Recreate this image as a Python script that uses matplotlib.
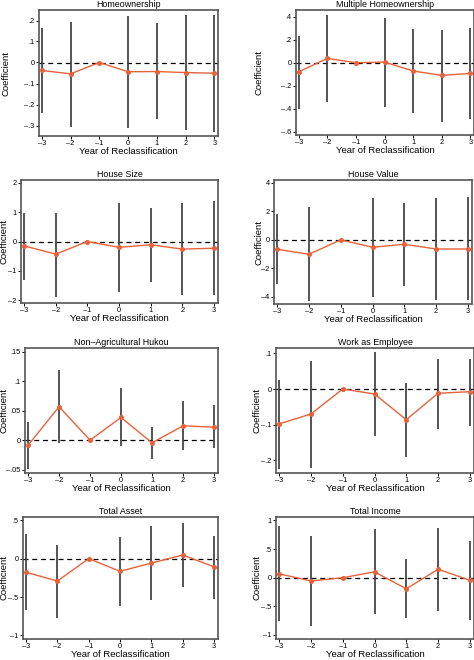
import numpy as np
import matplotlib
matplotlib.use("Agg")
import matplotlib.pyplot as plt
from matplotlib.ticker import FuncFormatter

plt.rcParams['font.family'] = ['Liberation Sans', 'DejaVu Sans']

years = [-3, -2, -1, 0, 1, 2, 3]

titles = ["Homeownership", "Multiple Homeownership", "House Size", "House Value",
          "Non\u2013Agricultural Hukou", "Work as Employee", "Total Asset", "Total Income"]

# point estimates (year -1 is the reference year)
coef_home = [-0.038, -0.054, 0, -0.044, -0.043, -0.048, -0.051]
coef_multi = [-0.078, 0.038, 0, 0.006, -0.072, -0.110, -0.093]
coef_size = [-0.15, -0.43, 0, -0.20, -0.11, -0.26, -0.23]
coef_value = [-0.66, -1.01, 0, -0.52, -0.31, -0.64, -0.64]
coef_hukou = [-0.0085, 0.0566, 0, 0.0385, -0.0045, 0.0243, 0.0221]
coef_emp = [-0.098, -0.070, 0, -0.014, -0.086, -0.012, -0.0075]
coef_asset = [-0.178, -0.292, 0, -0.165, -0.059, 0.047, -0.106]
coef_income = [0.068, -0.057, 0, 0.102, -0.193, 0.148, -0.045]

# confidence intervals (upper, lower); None for reference year
hi_home = [0.163, 0.195, None, 0.222, 0.187, 0.227, 0.227]
lo_home = [-0.241, -0.305, None, -0.31, -0.27, -0.32, -0.329]
hi_multi = [0.235, 0.414, None, 0.394, 0.29, 0.284, 0.299]
lo_multi = [-0.403, -0.339, None, -0.388, -0.44, -0.513, -0.493]
hi_size = [0.97, 0.97, None, 1.31, 1.14, 1.31, 1.39]
lo_size = [-1.31, -1.88, None, -1.73, -1.39, -1.84, -1.84]
hi_value = [1.81, 2.28, None, 2.94, 2.59, 2.94, 3.01]
lo_value = [-3.13, -4.30, None, -4.00, -3.22, -4.24, -4.24]
hi_hukou = [0.031, 0.119, None, 0.089, 0.0226, 0.066, 0.0595]
lo_hukou = [-0.048, -0.0045, None, -0.010, -0.031, -0.016, -0.014]
hi_emp = [0.026, 0.078, None, 0.104, 0.017, 0.085, 0.085]
lo_emp = [-0.224, -0.221, None, -0.133, -0.191, -0.112, -0.103]
hi_asset = [0.318, 0.182, None, 0.288, 0.428, 0.470, 0.301]
lo_asset = [-0.665, -0.771, None, -0.614, -0.538, -0.369, -0.521]
hi_income = [0.903, 0.722, None, 0.852, 0.324, 0.864, 0.648]
lo_income = [-0.756, -0.841, None, -0.642, -0.705, -0.574, -0.739]

coefs = [coef_home, coef_multi, coef_size, coef_value, coef_hukou, coef_emp, coef_asset, coef_income]
his = [hi_home, hi_multi, hi_size, hi_value, hi_hukou, hi_emp, hi_asset, hi_income]
los = [lo_home, lo_multi, lo_size, lo_value, lo_hukou, lo_emp, lo_asset, lo_income]

yticks = [np.arange(-0.3, 0.21, 0.1), np.arange(-0.6, 0.41, 0.2), np.arange(-2, 2.1, 1),
          np.arange(-4, 4.1, 2), np.arange(-0.05, 0.151, 0.05), np.arange(-0.2, 0.11, 0.1),
          np.arange(-1, 0.51, 0.5), np.arange(-1, 1.01, 0.5)]
ylims = [(-0.35, 0.25), (-0.63, 0.46), (-2.1, 2.1), (-4.5, 4.2),
         (-0.0555, 0.156), (-0.2355, 0.115), (-1.047, 0.542), (-1.07, 1.06)]

# axes boxes in pixels: left, top, right, bottom
W, H = 474, 660
boxes = [(39, 10, 218, 136), (296, 10, 474, 135),
         (21, 180, 218, 303), (274, 180, 472, 304),
         (25, 348, 218, 473), (276, 348, 474, 473),
         (23, 517, 218, 639), (276, 517, 474, 639)]
# pixel x of the right side of the rotated y label
ylabel_x = [11, 263, 9, 263, 9, 262, 8.5, 262]

line_col = "#E8623A"
bar_col = "#474747"


def stata_fmt(v, pos):
    v = round(v, 4)
    if v == 0:
        return "0"
    s = ("%g" % v).replace("0.", ".")
    return s.replace("-", "\u2013")


fig = plt.figure(figsize=(W / 100, H / 100), dpi=100)

for i in range(8):
    l, t, r, b = boxes[i]
    ax = fig.add_axes([l / W, 1 - b / H, (r - l) / W, (b - t) / H])
    for x, h, lo in zip(years, his[i], los[i]):
        if h is not None:
            ax.vlines(x, lo, h, color=bar_col, lw=1.3, zorder=2)
    ax.axhline(0, color="black", lw=0.9, ls=(0, (4, 3)), zorder=1)
    ax.plot(years, coefs[i], color=line_col, lw=1.0, marker="o", ms=2.6, zorder=3)
    ax.set_xlim(-3.1, 3.13)
    ax.set_ylim(*ylims[i])
    ax.set_xticks(years)
    ax.xaxis.set_major_formatter(FuncFormatter(stata_fmt))
    ax.set_yticks(yticks[i])
    ax.yaxis.set_major_formatter(FuncFormatter(stata_fmt))
    ax.tick_params(axis="both", labelsize=5.3, length=2, width=0.7, pad=1.2, colors="black")
    for sp in ax.spines.values():
        sp.set_color("#555555")
        sp.set_linewidth(1.2)
    ax.set_title(titles[i], fontsize=6.4, pad=2)
    ax.set_xlabel("Year of Reclassification", fontsize=6.8, labelpad=0)
    ax.set_ylabel("Coefficient", fontsize=6.8)
    ax.yaxis.set_label_coords((ylabel_x[i] - l) / (r - l), 0.5)

fig.savefig("out.png", dpi=100)
